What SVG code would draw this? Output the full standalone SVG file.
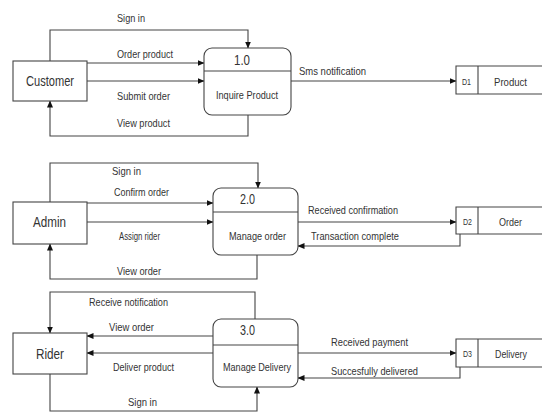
<svg xmlns="http://www.w3.org/2000/svg" width="558" height="420" viewBox="0 0 558 420">
<defs>
<marker id="arr" markerWidth="7" markerHeight="6" refX="6.5" refY="3" orient="auto" markerUnits="userSpaceOnUse">
<path d="M0,0 L7,3 L0,6 Z" fill="#111"/>
</marker>
<style>
.ln{fill:none;stroke:#444;stroke-width:1.1;marker-end:url(#arr)}
.box{fill:#fff;stroke:#444;stroke-width:1.1}
.st{fill:none;stroke:#444;stroke-width:1.1}
text{font-family:"Liberation Sans",Arial,sans-serif;fill:#333}
.lb{font-size:11px}
.ent{font-size:14px}
.num{font-size:14px}
.pn{font-size:11px}
.sid{font-size:8.5px}
.sn{font-size:11.5px}
</style>
</defs>
<rect width="558" height="420" fill="#fff"/>
<g id="connectors">
<!-- section 1 -->
<path class="ln" d="M50,61 V30 H248 V48"/>
<path class="ln" d="M87,63 H204"/>
<path class="ln" d="M87,81 H204"/>
<path class="ln" d="M248,115 V136 H50 V101"/>
<path class="ln" d="M291,81 H456"/>
<!-- section 2 -->
<path class="ln" d="M50,202 V163 H258 V188"/>
<path class="ln" d="M87,203 H213"/>
<path class="ln" d="M87,222 H213"/>
<path class="ln" d="M257,255 V279 H50 V244"/>
<path class="ln" d="M298,222 H456"/>
<path class="ln" d="M460,234 V246 H298"/>
<!-- section 3 -->
<path class="ln" d="M255,319 V292 H50 V333"/>
<path class="ln" d="M213,336 H87"/>
<path class="ln" d="M213,353 H87"/>
<path class="ln" d="M50,374 V411 H257 V387"/>
<path class="ln" d="M298,353 H456"/>
<path class="ln" d="M460,367 V378 H298"/>
</g>
<g id="labels">
<text class="lb" x="117" y="22" textLength="28" lengthAdjust="spacingAndGlyphs">Sign in</text>
<text class="lb" x="117" y="58" textLength="56" lengthAdjust="spacingAndGlyphs">Order product</text>
<text class="lb" x="117" y="100" textLength="53" lengthAdjust="spacingAndGlyphs">Submit order</text>
<text class="lb" x="117" y="127" textLength="53" lengthAdjust="spacingAndGlyphs">View product</text>
<text class="lb" x="299" y="75" textLength="67" lengthAdjust="spacingAndGlyphs">Sms notification</text>
<text class="lb" x="112" y="175" textLength="29" lengthAdjust="spacingAndGlyphs">Sign in</text>
<text class="lb" x="114" y="196" textLength="55" lengthAdjust="spacingAndGlyphs">Confirm order</text>
<text class="lb" x="119" y="240" textLength="41" lengthAdjust="spacingAndGlyphs">Assign rider</text>
<text class="lb" x="117" y="275" textLength="44" lengthAdjust="spacingAndGlyphs">View order</text>
<text class="lb" x="308" y="214" textLength="90" lengthAdjust="spacingAndGlyphs">Received confirmation</text>
<text class="lb" x="311" y="240" textLength="88" lengthAdjust="spacingAndGlyphs">Transaction complete</text>
<text class="lb" x="89" y="306" textLength="79" lengthAdjust="spacingAndGlyphs">Receive notification</text>
<text class="lb" x="109" y="331" textLength="45" lengthAdjust="spacingAndGlyphs">View order</text>
<text class="lb" x="113" y="371" textLength="61" lengthAdjust="spacingAndGlyphs">Deliver product</text>
<text class="lb" x="128" y="406" textLength="29" lengthAdjust="spacingAndGlyphs">Sign in</text>
<text class="lb" x="331" y="346" textLength="77" lengthAdjust="spacingAndGlyphs">Received payment</text>
<text class="lb" x="331" y="375" textLength="87" lengthAdjust="spacingAndGlyphs">Succesfully delivered</text>
</g>
<g id="customer">
<rect class="box" x="13" y="61" width="74" height="40"/>
<text class="ent" x="26" y="86" textLength="48" lengthAdjust="spacingAndGlyphs">Customer</text>
</g>
<g id="p1">
<rect class="box" x="204" y="48" width="87" height="67" rx="8"/>
<line class="st" x1="204" y1="71" x2="291" y2="71"/>
<text class="num" x="234" y="65" textLength="16" lengthAdjust="spacingAndGlyphs">1.0</text>
<text class="pn" x="216" y="99" textLength="62" lengthAdjust="spacingAndGlyphs">Inquire Product</text>
</g>
<g id="d1">
<path class="st" d="M542,66 H456 V94 H542 M478,66 V94"/>
<text class="sid" x="462" y="85" textLength="9" lengthAdjust="spacingAndGlyphs">D1</text>
<text class="sn" x="494" y="86" textLength="33" lengthAdjust="spacingAndGlyphs">Product</text>
</g>
<g id="admin">
<rect class="box" x="13" y="202" width="74" height="42"/>
<text class="ent" x="33" y="227" textLength="33" lengthAdjust="spacingAndGlyphs">Admin</text>
</g>
<g id="p2">
<rect class="box" x="213" y="188" width="85" height="67" rx="8"/>
<line class="st" x1="213" y1="212" x2="298" y2="212"/>
<text class="num" x="240" y="204" textLength="15" lengthAdjust="spacingAndGlyphs">2.0</text>
<text class="pn" x="229" y="240" textLength="57" lengthAdjust="spacingAndGlyphs">Manage order</text>
</g>
<g id="d2">
<path class="st" d="M542,207 H456 V234 H542 M478,207 V234"/>
<text class="sid" x="463" y="225" textLength="9" lengthAdjust="spacingAndGlyphs">D2</text>
<text class="sn" x="499" y="226" textLength="23" lengthAdjust="spacingAndGlyphs">Order</text>
</g>
<g id="rider">
<rect class="box" x="13" y="333" width="74" height="41"/>
<text class="ent" x="36" y="359" textLength="28" lengthAdjust="spacingAndGlyphs">Rider</text>
</g>
<g id="p3">
<rect class="box" x="213" y="319" width="85" height="68" rx="8"/>
<line class="st" x1="213" y1="345" x2="298" y2="345"/>
<text class="num" x="240" y="335" textLength="15" lengthAdjust="spacingAndGlyphs">3.0</text>
<text class="pn" x="223" y="371" textLength="68" lengthAdjust="spacingAndGlyphs">Manage Delivery</text>
</g>
<g id="d3">
<path class="st" d="M542,339 H456 V367 H542 M478,339 V367"/>
<text class="sid" x="463" y="357" textLength="9" lengthAdjust="spacingAndGlyphs">D3</text>
<text class="sn" x="495" y="358" textLength="32" lengthAdjust="spacingAndGlyphs">Delivery</text>
</g>
</svg>
